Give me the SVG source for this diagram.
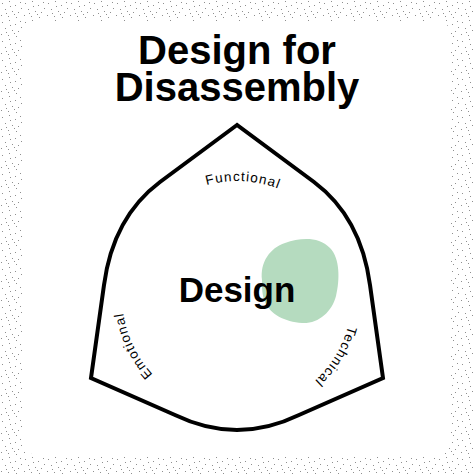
<svg xmlns="http://www.w3.org/2000/svg" width="474" height="474" viewBox="0 0 474 474">
<defs>
<pattern id="speck" width="23" height="19" patternUnits="userSpaceOnUse">
<rect width="23" height="19" fill="#ffffff"/>
<g fill="#8f8f8f">
<rect x="2" y="3" width="1" height="1"/>
<rect x="9" y="1" width="1" height="1"/>
<rect x="15" y="5" width="1" height="1"/>
<rect x="20" y="2" width="1" height="1"/>
<rect x="5" y="9" width="1" height="1"/>
<rect x="12" y="11" width="1" height="1"/>
<rect x="18" y="12" width="1" height="1"/>
<rect x="1" y="15" width="1" height="1"/>
<rect x="8" y="16" width="1" height="1"/>
<rect x="16" y="17" width="1" height="1"/>
<rect x="21" y="8" width="1" height="1"/>
<rect x="10" y="6" width="1" height="1"/>
<rect x="6" y="13" width="1" height="1"/>
<rect x="14" y="14" width="1" height="1"/>
</g>
</pattern>
<path id="arcF" d="M163.1,207.9 A115,115 0 0 1 319.7,216.1"/>
<path id="arcT" d="M349.5,272.1 A115,115 0 0 1 266.8,407.1"/>
<path id="arcE" d="M195.8,403.4 A115,115 0 0 1 127.6,260.5"/>
</defs>
<style>
.title{font-family:"Liberation Sans",Arial,sans-serif;font-weight:bold;font-size:40px;fill:#000;text-anchor:middle}
.center{font-family:"Liberation Sans",Arial,sans-serif;font-weight:bold;font-size:35px;fill:#000;text-anchor:middle}
.lbl{font-family:"Liberation Sans",Arial,sans-serif;font-size:13.5px;letter-spacing:1.1px;fill:#000;text-anchor:middle}
.outline{fill:#fff;stroke:#000;stroke-width:4;stroke-linejoin:miter}
</style>
<rect width="474" height="474" fill="url(#speck)"/>
<rect x="23" y="21" width="428" height="434" rx="14" fill="#fff"/>
<g id="title">
<text class="title" x="237" y="64">Design for</text>
<text class="title" x="237" y="101">Disassembly</text>
</g>
<g id="shape">
<path class="outline" d="M237,125 L160,182 C128,206 110,240 104,285 L91,378 L175,415 Q237,445 299,415 L383,378 L370,285 C364,240 346,206 314,182 Z"/>
</g>
<g id="blob">
<path fill="#b5dbbf" d="M262,280 C260,262 270,248 285,243 C300,238 318,236 330,248 C340,258 340,280 336,296 C332,312 318,324 302,323 C285,322 270,314 265,302 C262,295 262,288 262,280 Z"/>
</g>
<g id="design">
<text class="center" x="237" y="302">Design</text>
</g>
<g id="functional"><text class="lbl"><textPath href="#arcF" startOffset="50%">Functional</textPath></text></g>
<g id="technical"><text class="lbl"><textPath href="#arcT" startOffset="50%">Technical</textPath></text></g>
<g id="emotional"><text class="lbl"><textPath href="#arcE" startOffset="50%">Emotional</textPath></text></g>
<g id="connectors"></g>
</svg>
